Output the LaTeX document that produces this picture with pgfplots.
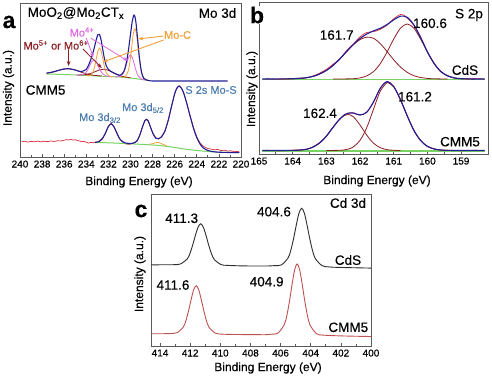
\documentclass[border=0pt]{standalone}
\usepackage{pgfplots}
\pgfplotsset{compat=1.18}
\usepackage{fontspec}
\setmainfont{Liberation Sans}[FakeBold=0.3]
\usetikzlibrary{arrows.meta}
\definecolor{fitblue}{RGB}{35,30,150}
\definecolor{datared}{RGB}{220,45,60}
\definecolor{bggreen}{RGB}{120,210,100}
\definecolor{maroon}{RGB}{140,30,35}
\definecolor{mopink}{RGB}{225,105,225}
\definecolor{moorange}{RGB}{240,160,60}
\definecolor{steel}{RGB}{75,125,175}
\definecolor{framegray}{RGB}{90,90,90}
\definecolor{cdsblack}{RGB}{45,45,45}
\definecolor{cmmred}{RGB}{190,80,80}
\pgfplotsset{
 myax/.style={scale only axis, anchor=south west, x dir=reverse, ymin=0,
  ytick=\empty, xtick pos=bottom, tick align=inside, minor x tick num=1,
  major tick length=3pt, minor tick length=1.8pt,
  axis line style={draw=framegray, line width=0.9pt},
  every tick/.style={framegray, line width=0.7pt},
  tick label style={font=\fontsize{10}{11}\selectfont},
  /pgf/number format/assume math mode=true, clip=true},
 fit/.style={fitblue, line width=1.1pt, smooth, tension=0.5},
 comp/.style={line width=0.8pt, smooth, tension=0.5},
}
\begin{document}
\begin{tikzpicture}[x=1pt,y=1pt]
\useasboundingbox (0pt,0pt) rectangle (492pt,377pt);
% ---------------- panel a ----------------
\begin{axis}[myax, at={(20pt,220pt)}, width=221pt, height=154pt,
  xmin=220, xmax=240, ymax=154, xtick={220,222,...,240}]
% lower: data
\addplot[datared, line width=0.7pt] coordinates {(239.85,15.3) (239.6,15.8) (239.3,14.9) (239.0,15.6) (238.7,15.2) (238.4,15.9) (238.1,15.1) (237.8,15.7) (237.5,15.4) (237.2,16.0) (236.9,15.5) (236.6,16.3) (236.3,16.0) (236.0,16.8) (235.8,17.4) (235.6,17.0) (235.4,17.7) (235.2,16.9) (235.0,17.3) (234.8,16.4) (234.6,16.0) (234.4,15.3) (234.2,15.6) (234.0,14.8) (233.8,13.9) (233.6,14.6) (233.4,14.2) (233.2,14.9) (232.9,15.3) (232.5,19.5) (232.25,24.0) (232.0,30.9) (231.75,33.8) (231.5,30.0) (231.25,24.6) (231.0,18.2) (230.7,15.4) (230.4,13.0) (230.1,12.6) (229.7,14.3) (229.4,16.0) (229.15,22.5) (228.9,30.2) (228.7,36.8) (228.55,37.5) (228.4,36.5) (228.2,29.8) (227.95,23.4) (227.7,19.2) (227.45,18.0) (227.2,20.4) (226.9,25.2) (226.6,36.5) (226.3,49.6) (226.0,63.8) (225.8,68.6) (225.6,71.5) (225.4,68.6) (225.2,64.9) (224.9,53.0) (224.6,41.2) (224.3,29.5) (224.0,20.1) (223.7,14.0) (223.4,10.6) (223.0,8.4) (222.7,7.9) (222.4,7.2) (222.1,7.6) (221.8,6.4) (221.5,6.8) (221.2,5.9) (220.9,6.2) (220.6,5.3) (220.3,5.6) (220.15,4.9)};
\addplot[bggreen, line width=1pt, smooth] coordinates {(233.2,14.5) (232,14.2) (230,13.2) (228,12) (227,11) (226,9.5) (225,7.8) (224,6.5) (223,5.5) (222,4.8) (220.2,4.3)};
\addplot[comp, moorange] coordinates {(228.3,12.7) (228.1,13.1) (227.9,13.7) (227.7,14.3) (227.5,14.5) (227.3,13.9) (227.1,12.9) (226.9,11.85) (226.7,10.95)};
\addplot[fit] coordinates {(233.2,14.6) (232.8,15.65) (232.5,19.0) (232.25,24.45) (232.0,30.5) (231.75,33.1) (231.5,30.35) (231.25,24.2) (231.0,18.65) (230.7,15.05) (230.4,13.85) (230.1,13.5) (229.7,13.9) (229.4,16.35) (229.15,22.0) (228.9,30.6) (228.7,36.3) (228.55,37.7) (228.4,36.1) (228.2,30.2) (227.95,23.0) (227.7,18.7) (227.45,18.25) (227.2,20.0) (226.9,25.65) (226.6,36.0) (226.3,50.05) (226.0,63.3) (225.8,68.95) (225.6,70.8) (225.4,69.0) (225.2,64.35) (224.9,53.4) (224.6,40.6) (224.3,28.7) (224.0,19.3) (223.7,12.9) (223.4,9.0) (223.0,6.5) (222.5,5.35) (222.0,4.8) (221.0,4.5) (220.15,4.3)};
% upper
\addplot[bggreen, line width=1pt, smooth] coordinates {(237.6,83) (236,82.5) (234,81.5) (233,81) (232,80.5) (231,80) (230,79) (229,77.5) (228.2,76.3)};
\addplot[comp, maroon] coordinates {(237.6,83.8) (237.1,84.75) (236.6,86.3) (236.1,87.85) (235.6,88.3) (235.1,87.35) (234.6,85.4) (234.1,83.45) (233.6,82.1) (232.6,80.9)};
\addplot[comp, maroon] coordinates {(234.8,82) (234.0,82.45) (233.6,83.6) (233.2,85.3) (232.8,87.1) (232.4,87.7) (232.0,86.7) (231.6,84.5) (231.2,82.4) (230.8,80.75) (230.0,79.1)};
\addplot[comp, mopink] coordinates {(234.9,82) (234.5,81.95) (234.1,83.75) (233.9,86.65) (233.7,91.05) (233.5,95.35) (233.3,97.15) (233.1,95.15) (232.9,90.65) (232.7,86.05) (232.5,82.95) (232.1,80.75) (231.7,80.35)};
\addplot[comp, mopink] coordinates {(231.4,80.2) (231.05,80.3) (230.7,82.8) (230.525,87.0) (230.35,93.25) (230.175,99.5) (230.0,102) (229.825,99.0) (229.65,92.4) (229.475,85.7) (229.3,81.05) (228.95,77.7) (228.6,76.9)};
\addplot[comp, moorange] coordinates {(234.0,81.5) (233.6,81.6) (233.4,85.0) (233.25,90.2) (233.1,98.05) (232.95,105.7) (232.8,108.9) (232.65,105.5) (232.5,97.75) (232.35,89.8) (232.2,84.4) (231.9,80.75) (231.6,80.3)};
\addplot[comp, moorange] coordinates {(230.8,79.8) (230.5,80.1) (230.2,86.1) (230.05,95.3) (229.9,109.15) (229.75,122.7) (229.6,128.4) (229.45,122.3) (229.3,108.25) (229.15,93.9) (229.0,84.3) (228.7,77.65) (228.4,76.6)};
\addplot[fit] coordinates {(237.6,83.8) (237.0,85.1) (236.5,86.7) (236.0,88.0) (235.6,88.3) (235.0,87.0) (234.5,85.45) (234.0,87.65) (233.7,94.25) (233.5,100.55) (233.3,108.25) (233.1,117.25) (232.95,122.3) (232.8,122.5) (232.65,116.5) (232.5,106.9) (232.3,95.3) (232.1,89.05) (231.8,85.8) (231.5,83.95) (231.2,82.45) (230.9,81.9) (230.6,85.65) (230.4,93.1) (230.2,105.7) (230.0,122.7) (229.85,135.1) (229.7,141.75) (229.6,140.4) (229.5,133.85) (229.35,117.4) (229.2,100.1) (229.0,84.7) (228.8,78.6) (228.5,76.8) (228.2,76.2) (227.5,76) (221.2,76)};
% arrows
\draw[maroon, line width=1pt, -{Stealth[length=5pt]}] (axis cs:235.6,107) -- (axis cs:235.6,91);
\draw[maroon, line width=0.8pt, -{Stealth[length=5pt]}] (axis cs:234.3,108) -- (axis cs:232.6,89);
\draw[mopink, line width=0.8pt, -{Stealth[length=5pt]}] (axis cs:234.0,119) -- (axis cs:233.35,99.5);
\draw[mopink, line width=0.8pt, -{Stealth[length=5pt]}] (axis cs:233.6,119) -- (axis cs:230.25,96);
\draw[moorange, line width=0.9pt, -{Stealth[length=5pt]}] (axis cs:227.0,121) -- (axis cs:229.3,118);
\draw[moorange, line width=0.9pt, -{Stealth[length=5pt]}] (axis cs:227.0,117) -- (axis cs:232.5,95);
\end{axis}
% ---------------- panel b ----------------
\begin{axis}[myax, at={(259pt,223pt)}, width=229pt, height=152pt,
  xmin=158.2, xmax=165, ymax=152, xtick={159,...,165}]
\addplot[bggreen, line width=1.3pt] coordinates {(164.9,74.6) (158.3,74.6)};
\addplot[bggreen, line width=1.3pt] coordinates {(164.9,3.1) (158.3,3.1)};
\addplot[datared, line width=0.7pt, smooth] coordinates {(164.8,75.3) (164.4,74.8) (164.0,75.6) (163.6,76.0) (163.3,79.3) (163.0,84.6) (162.8,89.8) (162.6,95.0) (162.4,103.4) (162.2,110.0) (162.0,117.2) (161.8,121.5) (161.6,122.3) (161.4,124.6) (161.2,128.7) (161.0,135.2) (160.8,139.5) (160.7,139.0) (160.6,136.0) (160.4,128.5) (160.2,117.0) (160.0,101.9) (159.8,91.0) (159.6,82.0) (159.4,78.6) (159.2,75.8) (159.0,75.6) (158.8,74.8) (158.6,75.3) (158.3,75.0)};
\addplot[datared, line width=0.7pt, smooth] coordinates {(164.8,3.8) (164.4,3.2) (164.0,3.9) (163.6,4.5) (163.4,7.2) (163.2,11.4) (163.0,17.5) (162.8,27.0) (162.6,34.8) (162.45,39.8) (162.35,40.5) (162.2,41.3) (162.0,38.8) (161.8,42.1) (161.6,51.7) (161.4,66.0) (161.2,72.0) (161.0,67.8) (160.8,54.0) (160.6,38.6) (160.4,23.2) (160.2,13.8) (160.0,7.4) (159.8,5.3) (159.6,3.8) (159.4,3.9) (159.0,3.3) (158.6,3.7) (158.3,3.4)};
\addplot[comp, maroon] coordinates {(164.4,75.05) (164.0,75.2) (163.6,76.3) (163.3,78.6) (163.0,83.5) (162.8,88.6) (162.6,95.1) (162.4,102.3) (162.2,109.2) (162.0,114.4) (161.8,116.9) (161.6,115.7) (161.4,110.4) (161.2,102.6) (161.0,94.2) (160.8,87.0) (160.6,81.7) (160.4,78.3) (160.2,76.5) (160.0,75.6) (159.8,75.2) (159.4,75)};
\addplot[comp, maroon] coordinates {(162.8,75) (162.4,75.1) (162.2,75.3) (162.0,76.1) (161.8,78.1) (161.6,82.4) (161.4,90.3) (161.2,101.8) (161.0,114.9) (160.8,125.8) (160.6,130) (160.4,125.8) (160.2,114.9) (160.0,101.8) (159.8,90.3) (159.6,82.4) (159.4,78.1) (159.2,76.1) (159.0,75.3) (158.6,75)};
\addplot[comp, maroon] coordinates {(164.0,3.5) (163.8,3.9) (163.6,4.7) (163.4,6.8) (163.2,11.0) (163.0,17.9) (162.8,26.7) (162.6,34.9) (162.45,38.7) (162.35,39.5) (162.2,37.3) (162.0,29.0) (161.8,18.8) (161.6,10.8) (161.4,6.3) (161.2,4.35) (161.0,3.7) (160.8,3.5)};
\addplot[comp, maroon] coordinates {(163.0,3.5) (162.6,3.7) (162.45,4.2) (162.35,4.9) (162.2,7.1) (162.0,13.6) (161.8,26.4) (161.6,44.8) (161.4,62.8) (161.2,71.5) (161.18,71.5) (161.0,67.2) (160.8,54.4) (160.6,38.2) (160.4,23.6) (160.2,13.4) (160.0,7.7) (159.8,5.0) (159.6,4.0) (159.4,3.6) (159.0,3.5)};
\addplot[fit] coordinates {(164.9,75.0) (164.4,75.05) (164.0,75.2) (163.6,76.3) (163.3,78.6) (163.0,83.5) (162.8,88.6) (162.6,95.1) (162.4,102.4) (162.2,109.5) (162.0,115.5) (161.8,120.0) (161.6,123.1) (161.4,125.7) (161.2,129.4) (161.0,134.1) (160.8,137.8) (160.6,136.7) (160.4,129.1) (160.2,116.4) (160.0,102.4) (159.8,90.5) (159.6,82.5) (159.4,78.1) (159.2,76.1) (159.0,75.3) (158.6,75) (158.3,75)};
\addplot[fit] coordinates {(164.9,3.5) (164.4,3.5) (164.0,3.6) (163.8,3.9) (163.6,4.7) (163.4,6.8) (163.2,11.0) (163.0,17.9) (162.8,26.7) (162.6,35.1) (162.45,39.4) (162.35,40.9) (162.2,40.9) (162.0,39.1) (161.8,41.7) (161.6,52.1) (161.4,65.6) (161.2,72.35) (161.0,67.4) (160.8,54.4) (160.6,38.2) (160.4,23.6) (160.2,13.4) (160.0,7.7) (159.8,5.0) (159.6,4.0) (159.4,3.6) (159.0,3.5) (158.3,3.5)};
\end{axis}
% ---------------- panel c ----------------
\begin{axis}[myax, at={(151pt,31pt)}, width=220pt, height=152pt,
  xmin=400, xmax=414.6, ymax=152, xtick={400,402,...,414}]
\addplot[cdsblack, line width=0.9pt, smooth, tension=0.5] coordinates {(414.6,81.2) (414.0,81.2) (413.1,81.3) (412.65,82.0) (412.2,87.0) (412.02,92.4) (411.84,100.6) (411.66,110.25) (411.48,118.7) (411.3,122.26) (411.12,118.6) (410.94,110.1) (410.76,100.3) (410.58,92.1) (410.4,86.5) (409.95,81.4) (409.5,80.6) (408.5,80.1) (407.5,80.0) (406.85,80.0) (406.4,80.4) (405.95,81.05) (405.5,88.1) (405.32,95.8) (405.14,107.3) (404.96,120.8) (404.78,132.8) (404.6,137.74) (404.42,132.7) (404.24,120.65) (404.06,107.0) (403.88,95.46) (403.7,87.6) (403.25,80.35) (402.8,79.1) (402.35,78.7) (401.0,78.2) (400.0,77.9)};
\addplot[cmmred, line width=0.9pt, smooth, tension=0.5] coordinates {(414.6,12.3) (414.0,12.25) (413.4,12.45) (412.875,13.3) (412.45,19.1) (412.28,25.6) (412.11,35.0) (411.94,46.2) (411.77,56.2) (411.6,60.25) (411.43,56.1) (411.26,46.1) (411.09,34.85) (410.92,25.3) (410.75,18.8) (410.325,12.8) (409.8,11.8) (409.0,11.5) (408.0,11.4) (407.0,11.3) (406.6,11.8) (406.175,12.85) (405.75,21.5) (405.58,30.8) (405.41,44.8) (405.24,61.4) (405.07,75.9) (404.9,82.0) (404.73,75.9) (404.56,61.2) (404.39,44.6) (404.22,30.6) (404.05,21.1) (403.625,12.35) (403.2,10.9) (402.2,10.2) (401.0,9.75) (400.0,9.5)};
\end{axis}
% ---------------- texts ----------------
\begin{scope}[every node/.style={inner sep=0.5pt}]
\node[font=\fontsize{23}{23}\selectfont\bfseries] at (9,355) {a};
\node[font=\fontsize{23}{23}\selectfont\bfseries, fill=white, inner sep=1pt] at (257,362) {b};
\node[font=\fontsize{23}{23}\selectfont\bfseries] at (141,166) {c};
\begin{scope}[font=\fontsize{13.5}{14}\selectfont]
\node[anchor=west] at (27,364) {MoO\textsubscript{2}@Mo\textsubscript{2}CT\textsubscript{x}};
\node[anchor=east] at (237,364) {Mo 3d};
\node[anchor=west] at (25,287) {CMM5};
\node at (469,362) {S 2p};
\node at (336.7,342) {161.7};
\node at (430,353.7) {160.6};
\node at (465,307) {CdS};
\node at (320,263.7) {162.4};
\node at (415,280.3) {161.2};
\node at (460,235.3) {CMM5};
\node at (348,174) {Cd 3d};
\node at (181.7,158.7) {411.3};
\node at (274,165.3) {404.6};
\node at (348,117) {CdS};
\node at (173,92) {411.6};
\node at (266.7,95.3) {404.9};
\node at (348.3,49.7) {CMM5};
\end{scope}
\begin{scope}[font=\fontsize{11}{12}\selectfont]
\node[text=mopink] at (82,345) {Mo\textsuperscript{4+}};
\node[text=maroon] at (56,332) {Mo\textsuperscript{5+} or Mo\textsuperscript{6+}};
\node[text=moorange] at (177.5,342) {Mo-C};
\node[text=steel] at (100,259) {Mo 3d\textsubscript{3/2}};
\node[text=steel] at (143,269) {Mo 3d\textsubscript{5/2}};
\node[text=steel] at (211,287) {S 2s Mo-S};
\end{scope}
\begin{scope}[font=\fontsize{12}{13}\selectfont]
\node[rotate=90] at (8.5,289) {Intensity (a.u.)};
\node[rotate=90] at (252,288) {Intensity (a.u.)};
\node[rotate=90] at (140,103) {Intensity (a.u.)};
\node at (139,195) {Binding Energy (eV)};
\node at (377,196) {Binding Energy (eV)};
\node at (268,9) {Binding Energy (eV)};
\end{scope}
\end{scope}
\end{tikzpicture}
\end{document}
